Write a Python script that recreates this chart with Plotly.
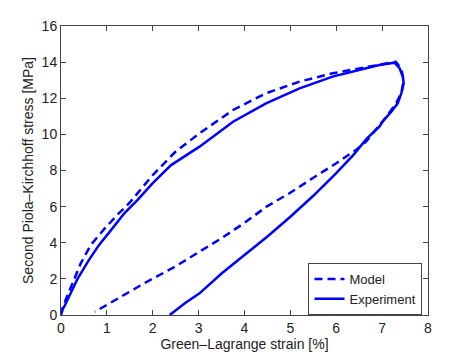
import plotly.graph_objects as go

# Experiment (solid): loading then unloading branch
exp_strain = [0, 0.07, 0.21, 0.36, 0.61, 0.83, 1.09, 1.38, 1.67, 2.0, 2.4, 3.02, 3.75, 4.47, 5.2, 5.92,
              6.65, 6.94, 7.27,
              7.38, 7.45, 7.47, 7.42, 7.34, 7.2, 7.01, 6.94, 6.66, 6.37, 6.0, 5.5, 5.0, 4.5, 4.0, 3.5,
              3.02, 2.7, 2.37]
exp_stress = [0.3, 0.46, 1.2, 2.0, 3.05, 3.88, 4.7, 5.63, 6.37, 7.3, 8.3, 9.32, 10.7, 11.72, 12.55, 13.2,
              13.66, 13.84, 13.97,
              13.66, 13.2, 12.83, 12.28, 11.72, 11.26, 10.7, 10.43, 9.75, 8.85, 7.85, 6.6, 5.44, 4.35, 3.3, 2.3,
              1.2, 0.65, 0.0]

# Model (dashed): loading then unloading branch
model_strain = [0, 0.1, 0.25, 0.43, 0.65, 0.94, 1.23, 1.49, 2.0, 2.5, 3.02, 3.75, 4.47, 5.2, 5.92, 6.5,
                7.0, 7.3,
                7.42, 7.47, 7.42, 7.3, 7.1, 6.9, 6.65, 6.43, 6.0, 5.5, 4.98, 4.48, 4.0, 3.5, 3.09, 2.5,
                1.81, 1.2, 0.74]
model_stress = [0, 0.83, 1.75, 2.86, 3.88, 4.75, 5.55, 6.2, 7.75, 9.05, 10.06, 11.35, 12.28, 12.92, 13.38,
                13.65, 13.9, 14.02,
                13.6, 13.0, 12.3, 11.7, 11.0, 10.35, 9.6, 9.14, 8.4, 7.6, 6.74, 6.0, 5.1, 4.25, 3.6, 2.7,
                1.75, 0.85, 0.18]

x_ticks = [0, 1, 2, 3, 4, 5, 6, 7, 8]
y_ticks = [0, 2, 4, 6, 8, 10, 12, 14, 16]

blue = "#0000FF"
font_family = "Liberation Sans, Arial, Helvetica, sans-serif"

fig = go.Figure()
fig.add_trace(go.Scatter(x=model_strain, y=model_stress, mode="lines", name="Model",
                         line=dict(color=blue, width=2.5, dash="8px,5px")))
fig.add_trace(go.Scatter(x=exp_strain, y=exp_stress, mode="lines", name="Experiment",
                         line=dict(color=blue, width=2.5)))

axis_common = dict(
    showgrid=False, zeroline=False, showline=True, linecolor="#444", linewidth=1,
    mirror="ticks", ticks="inside", ticklen=5, tickcolor="#444", automargin=False,
    tickfont=dict(family=font_family, size=14, color="#222"),
)

# the page body adds an 8px offset, so the figure is drawn 8px smaller with margins adjusted
fig.update_layout(
    width=466, height=347,
    margin=dict(l=53, r=46, t=18, b=40),
    paper_bgcolor="white", plot_bgcolor="white",
    font=dict(family=font_family, size=14, color="#222"),
    xaxis=dict(range=[0, 8], tickvals=x_ticks, ticktext=[str(v) for v in x_ticks],
               title=dict(text="Green–Lagrange strain [%]", standoff=0,
                          font=dict(family=font_family, size=14, color="#222")),
               **axis_common),
    yaxis=dict(range=[0, 16], tickvals=y_ticks, ticktext=[str(v) for v in y_ticks],
               title=dict(text="Second Piola–Kirchhoff stress [MPa]", standoff=4,
                          font=dict(family=font_family, size=14, color="#222")),
               **axis_common),
    legend=dict(x=0.985, y=0.0, xanchor="right", yanchor="bottom",
                bgcolor="white", bordercolor="#444", borderwidth=1,
                font=dict(family=font_family, size=13, color="#222"),
                tracegroupgap=0, itemwidth=30),
    showlegend=True,
)

fig.write_html("out.html")
